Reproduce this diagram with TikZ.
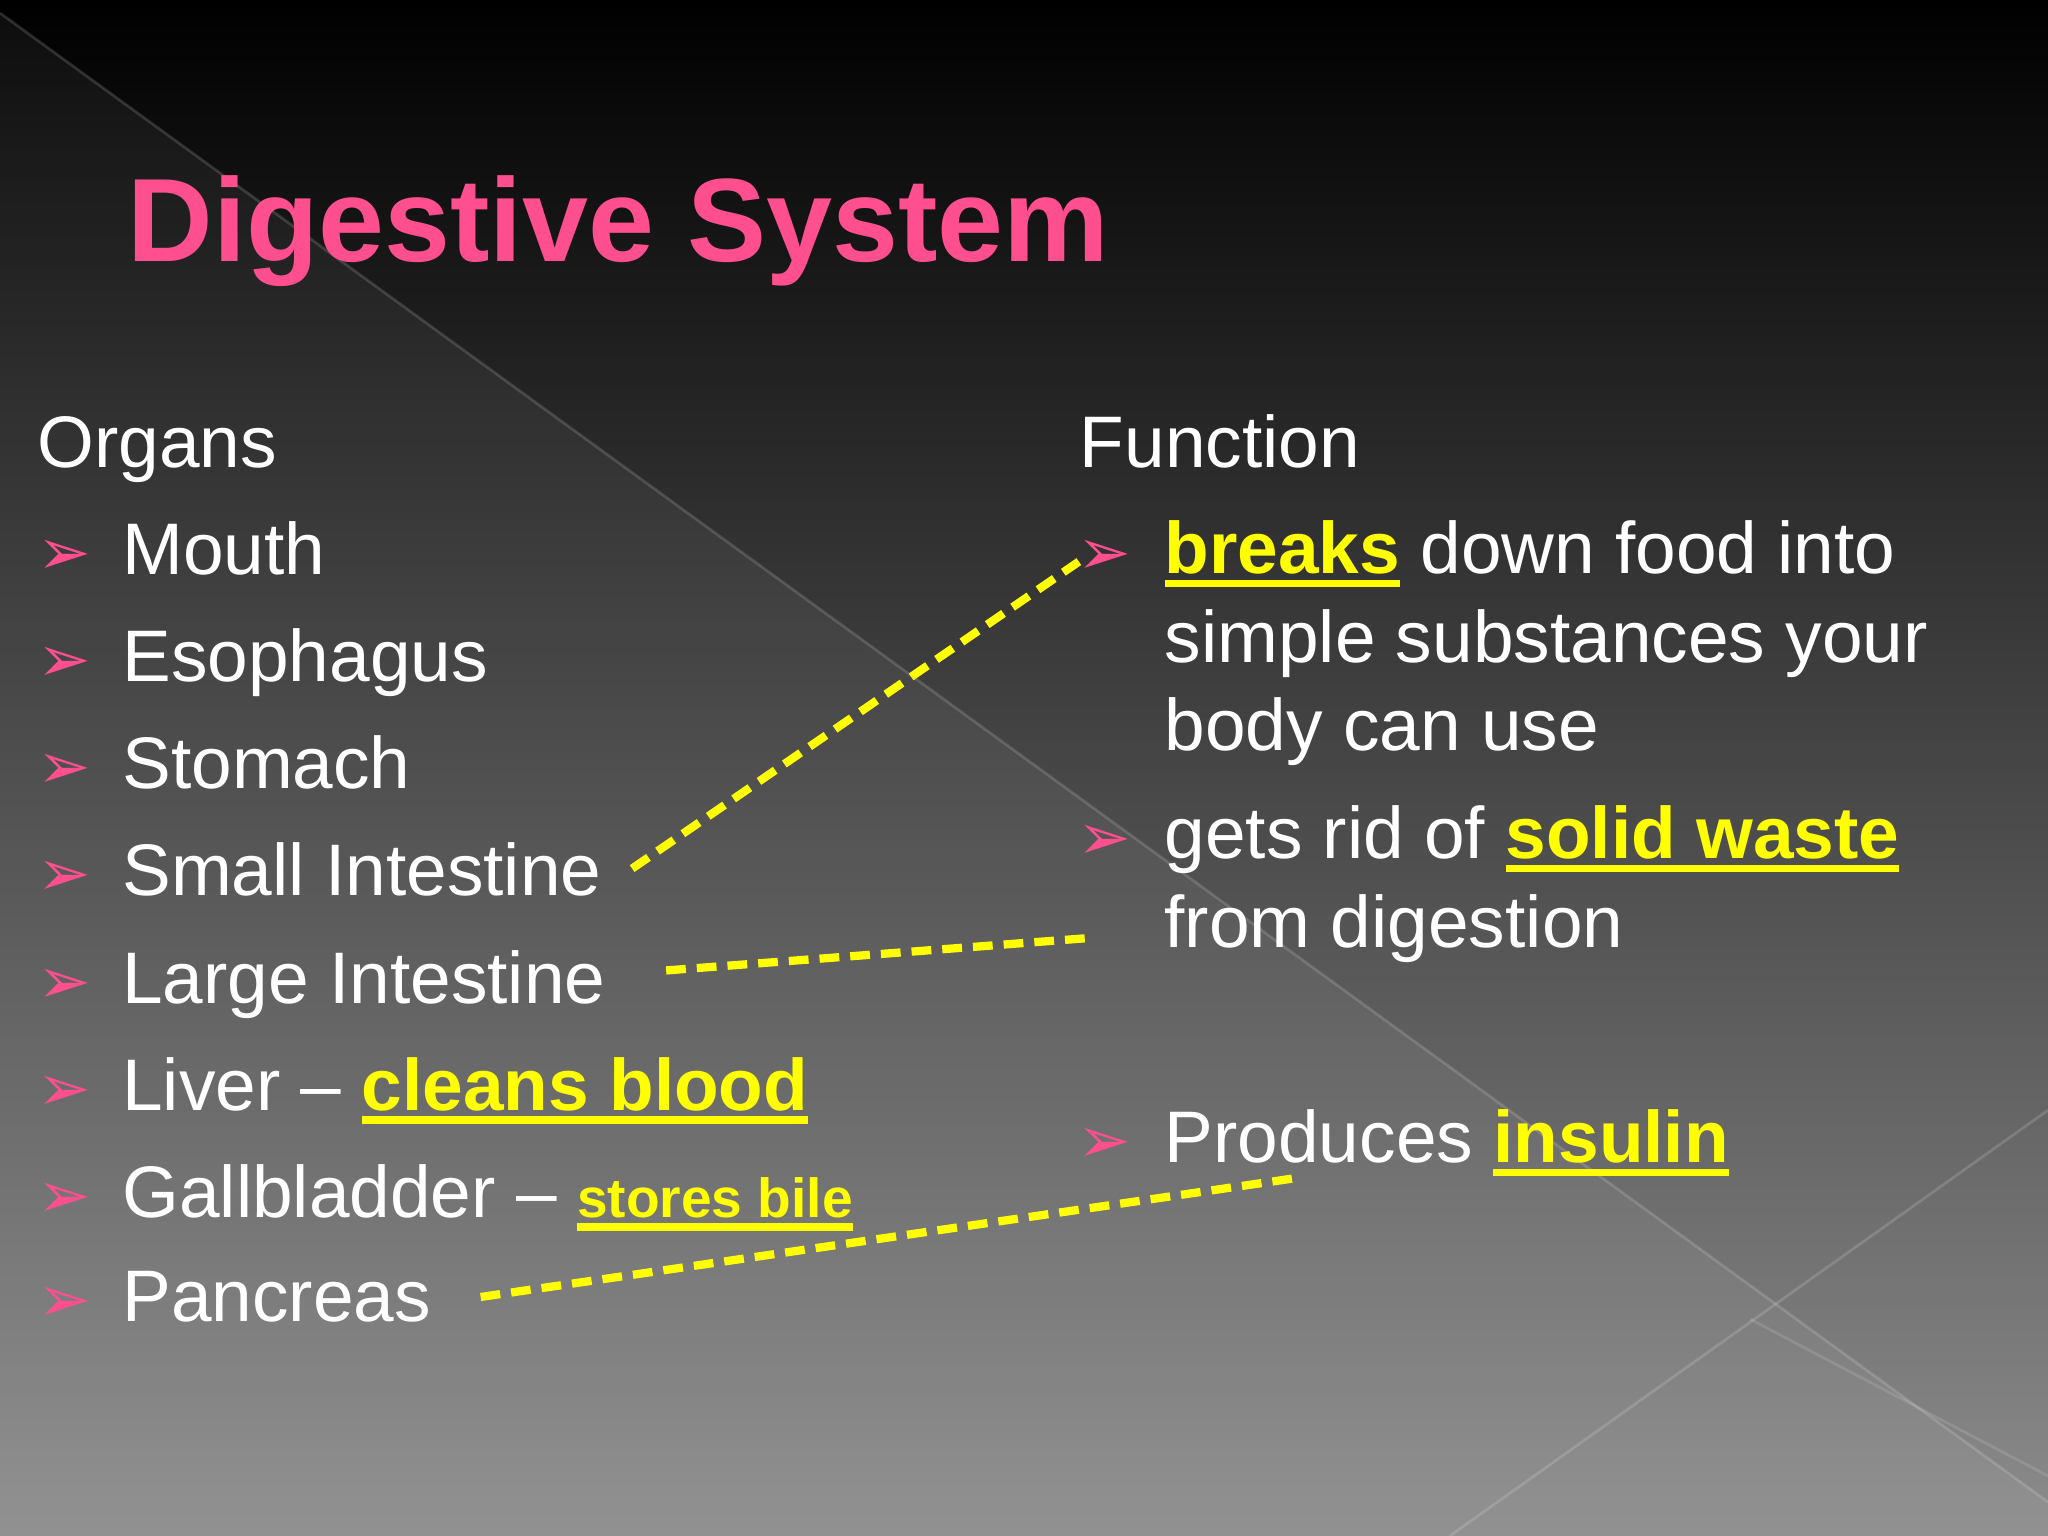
\documentclass[tikz,border=0pt]{standalone}
\usepackage{fontspec}
\setmainfont{Liberation Sans}
\newfontfamily\djv{DejaVu Sans}
\definecolor{pinkt}{HTML}{FF4F8F}
\definecolor{yel}{HTML}{FFFF00}
\newcommand\yul[1]{\leavevmode\textcolor{yel}{\vtop{\hbox{\bfseries #1}\kern1.2pt\hrule height 1.6pt}}}
\begin{document}
\begin{tikzpicture}[x=0.01cm,y=-0.01cm,
  txt/.style={anchor=base west,inner sep=0,text=white,font=\fontsize{15.9}{19.3}\selectfont},
  bul/.style={anchor=base west,inner sep=0,text=pinkt,font=\djv\fontsize{14}{16}\selectfont},
  link/.style={yel,line width=1.8pt,dash pattern=on 4.3pt off 2.4pt}]
\useasboundingbox (0,0) rectangle (1568,1176);
\shade[top color=black,bottom color=black!45] (0,0) rectangle (1568,1176);
\fill[white,opacity=0.05] (0,10) -- (1568,1150) -- (1568,1176) -- (0,1176) -- cycle;
\draw[white,opacity=0.15,line width=0.6pt] (0,10) -- (1568,1150);
\draw[white,opacity=0.15,line width=0.6pt] (1568,850) -- (1110,1176);
\draw[white,opacity=0.12,line width=0.6pt] (1340,1010) -- (1568,1130);
\node[anchor=base west,inner sep=0,text=pinkt,font=\bfseries\fontsize{25.8}{30}\selectfont] (title) at (97,200) {Digestive System};
\node[txt] (org) at (28,358) {Organs};
\node[txt] (fun) at (826,358) {Function};
\foreach \n/\y/\t in {m/440/Mouth,e/522/Esophagus,s/604/Stomach,si/686/Small Intestine,li/768/Large Intestine,p/1012/Pancreas}{
  \node[bul] (b\n) at (28,\y) {➢};
  \node[txt] (\n) at (93,\y) {\t};}
\node[bul] (bl) at (28,850) {➢};
\node[txt] (l) at (93,850) {Liver -- \yul{cleans blood}};
\node[bul] (bg) at (28,932) {➢};
\node[txt] (g) at (93,932) {Gallbladder -- {\fontsize{12}{14}\selectfont\yul{stores bile}}};
\node[bul] (f1b) at (824,440) {➢};
\node[txt,align=left,anchor=north west] (f1) at (891,398) {\yul{breaks} down food into\\simple substances your\\body can use};
\node[bul] (f2b) at (824,658) {➢};
\node[txt,align=left,anchor=north west] (f2) at (891,616) {gets rid of \yul{solid waste}\\from digestion};
\node[bul] (f3b) at (824,890) {➢};
\node[txt] (f3) at (891,890) {Produces \yul{insulin}};
\coordinate (c1) at (484,665); \coordinate (c2) at (826,430);
\coordinate (c3) at (510,743); \coordinate (c4) at (836,718);
\coordinate (c5) at (368,993); \coordinate (c6) at (992,902);
\draw[link] (c1) -- (c2);
\draw[link] (c3) -- (c4);
\draw[link] (c5) -- (c6);
\end{tikzpicture}
\end{document}
